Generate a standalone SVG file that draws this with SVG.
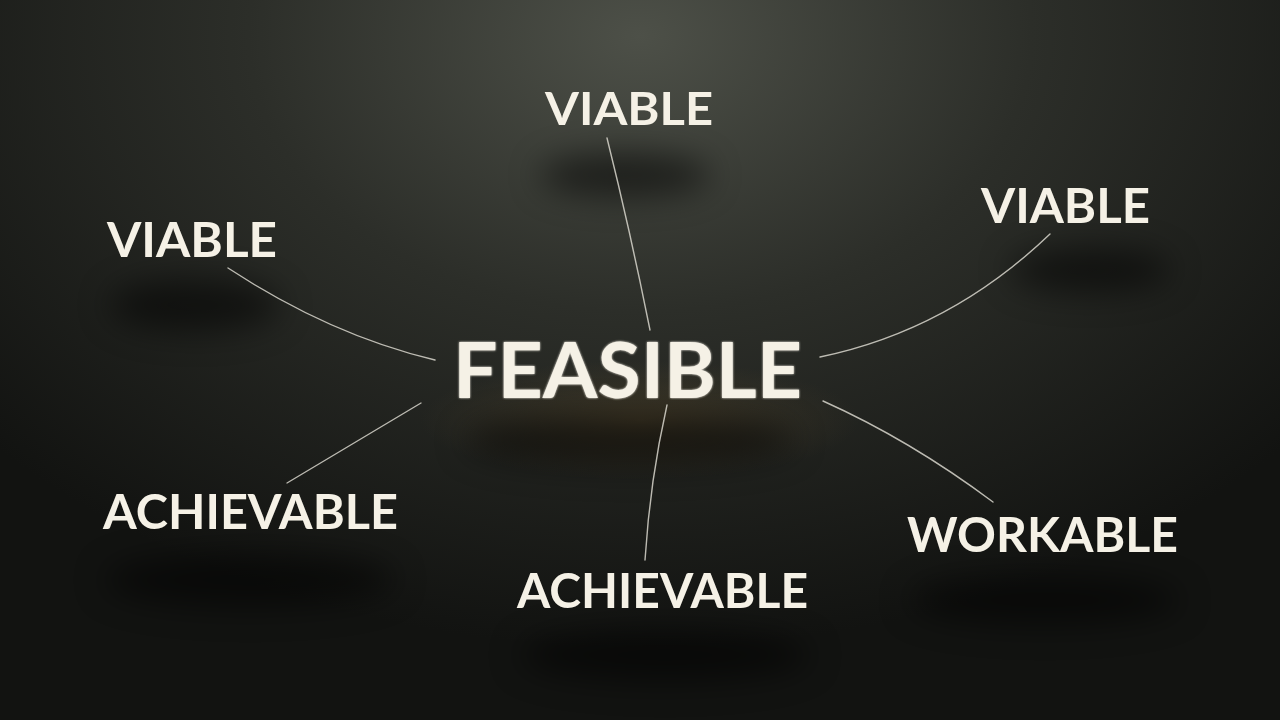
<svg xmlns="http://www.w3.org/2000/svg" width="1280" height="720" viewBox="0 0 1280 720">
<defs>
<radialGradient id="bg" cx="0.5" cy="0.05" r="0.85" gradientTransform="translate(0.1,0) scale(0.8,1)">
<stop offset="0" stop-color="#4d5048"/>
<stop offset="0.45" stop-color="#2c2e29"/>
<stop offset="1" stop-color="#121311"/>
</radialGradient>
<radialGradient id="glow" cx="0.5" cy="0.5" r="0.5">
<stop offset="0" stop-color="#6a5530" stop-opacity="0.4"/>
<stop offset="1" stop-color="#6a5530" stop-opacity="0"/>
</radialGradient>
<filter id="blur" filterUnits="userSpaceOnUse" x="0" y="0" width="1280" height="720"><feGaussianBlur stdDeviation="16"/></filter>
<filter id="tglow" x="-10%" y="-30%" width="120%" height="160%"><feGaussianBlur stdDeviation="1.2" result="b"/><feMerge><feMergeNode in="b"/><feMergeNode in="SourceGraphic"/></feMerge></filter>
</defs>
<style>
.lbl{font-family:"Lato","Open Sans","Liberation Sans",sans-serif;font-weight:700;fill:#f5f1e6;}
.sh{fill:#0b0b0a;opacity:0.5;}
.con{fill:none;stroke:#d8d6cc;stroke-width:1.4;stroke-linecap:round;opacity:0.85;}
</style>
<rect width="1280" height="720" fill="url(#bg)"/>
<ellipse cx="640" cy="420" rx="220" ry="60" fill="url(#glow)"/>
<g id="shadows" filter="url(#blur)">
<ellipse class="sh" cx="625" cy="175" rx="85" ry="22"/>
<ellipse class="sh" cx="1090" cy="270" rx="80" ry="22"/>
<ellipse class="sh" cx="195" cy="305" rx="85" ry="26"/>
<ellipse class="sh" cx="630" cy="440" rx="165" ry="26"/>
<ellipse class="sh" cx="250" cy="580" rx="145" ry="26"/>
<ellipse class="sh" cx="665" cy="655" rx="145" ry="26"/>
<ellipse class="sh" cx="1045" cy="600" rx="135" ry="24"/>
</g>
<g id="connectors">
<path class="con" d="M607,138 Q630,230 650,330"/>
<path class="con" d="M228,268 Q330,335 435,360"/>
<path class="con" d="M421,403 L287,483"/>
<path class="con" d="M667,405 Q650,480 645,560"/>
<path class="con" d="M820,357 Q950,330 1050,234"/>
<path class="con" d="M823,401 Q910,440 993,502"/>
</g>
<g id="node-feasible"><text class="lbl" x="453" y="398" font-size="76" textLength="349" lengthAdjust="spacingAndGlyphs" filter="url(#tglow)">FEASIBLE</text></g>
<g id="node-viable-top"><text class="lbl" x="545" y="125" font-size="46" textLength="168" lengthAdjust="spacingAndGlyphs">VIABLE</text></g>
<g id="node-viable-left"><text class="lbl" x="107" y="257" font-size="47" textLength="170" lengthAdjust="spacingAndGlyphs">VIABLE</text></g>
<g id="node-viable-right"><text class="lbl" x="981" y="223" font-size="47" textLength="169" lengthAdjust="spacingAndGlyphs">VIABLE</text></g>
<g id="node-achievable-left"><text class="lbl" x="103" y="529" font-size="47" textLength="295" lengthAdjust="spacingAndGlyphs">ACHIEVABLE</text></g>
<g id="node-achievable-bottom"><text class="lbl" x="517" y="608" font-size="47" textLength="291" lengthAdjust="spacingAndGlyphs">ACHIEVABLE</text></g>
<g id="node-workable"><text class="lbl" x="907" y="552" font-size="47" textLength="271" lengthAdjust="spacingAndGlyphs">WORKABLE</text></g>
</svg>
